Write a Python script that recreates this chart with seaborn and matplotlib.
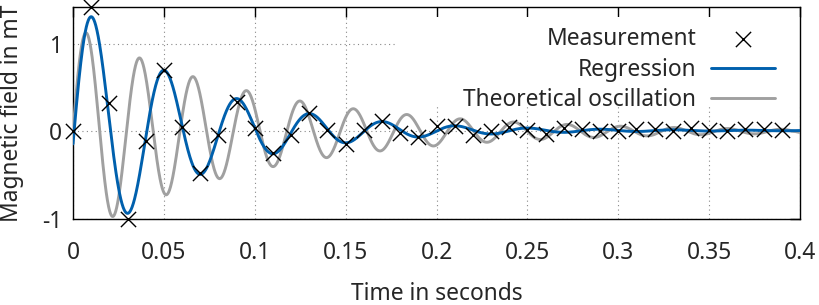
import numpy as np
import pandas as pd
import matplotlib
matplotlib.use("Agg")
import matplotlib.pyplot as plt
from matplotlib.patches import Rectangle
import seaborn as sns

# ---------------- data ----------------
meas_t = [0.00, 0.01, 0.02, 0.03, 0.04, 0.05, 0.06, 0.07, 0.08, 0.09,
          0.10, 0.11, 0.12, 0.13, 0.14, 0.15, 0.16, 0.17, 0.18, 0.19,
          0.20, 0.21, 0.22, 0.23, 0.24, 0.25, 0.26, 0.27, 0.28, 0.29,
          0.30, 0.31, 0.32, 0.33, 0.34, 0.35, 0.36, 0.37, 0.38, 0.39]
meas_b = [0.00, 1.42, 0.32, -1.00, -0.11, 0.70, 0.05, -0.47, -0.04, 0.33,
          0.04, -0.25, -0.04, 0.21, 0.02, -0.14, 0.02, 0.12, -0.02, -0.06,
          0.06, 0.06, -0.04, 0.01, 0.05, 0.02, -0.03, 0.04, 0.03, 0.00,
          0.00, 0.03, 0.03, 0.01, 0.04, 0.02, 0.01, 0.03, 0.03, 0.02]

# damped-oscillation parameters:
# [amplitude (mT), decay time (s), frequency (Hz), phase (rad), offset (mT)]
regression_params = [1.53, 0.063, 25.0, -0.10, 0.01]
theory_params = [1.21, 0.100, 34.0, 0.00, 0.00]

x_ticks = [0, 0.05, 0.1, 0.15, 0.2, 0.25, 0.3, 0.35, 0.4]
x_tick_labels = ["0", "0.05", "0.1", "0.15", "0.2", "0.25", "0.3", "0.35", "0.4"]
y_ticks = [-1, 0, 1]
y_tick_labels = ["-1", "0", "1"]

labels = ["Measurement", "Regression", "Theoretical oscillation"]


def damped(t, p):
    a, tau, f, phi, c = p
    return a * np.exp(-t / tau) * np.sin(2 * np.pi * f * t + phi) + c


t_curve = np.linspace(0, 0.4, 3000)
df_reg = pd.DataFrame({"t": t_curve, "b": damped(t_curve, regression_params)})
df_th = pd.DataFrame({"t": t_curve, "b": damped(t_curve, theory_params)})
df_meas = pd.DataFrame({"t": meas_t, "b": meas_b})

# ---------------- style ----------------
sns.set_theme(style="white")
plt.rcParams["font.family"] = ["Noto Sans", "DejaVu Sans"]
plt.rcParams["axes.unicode_minus"] = False
FS = 16.4

fig, ax = plt.subplots(figsize=(8.2, 3.05), dpi=100)
fig.subplots_adjust(left=73 / 820, right=800 / 820, bottom=1 - 219 / 305, top=1 - 7 / 305)

sns.lineplot(data=df_th, x="t", y="b", ax=ax, color="#a0a0a0", lw=2.1,
             label=labels[2], zorder=3)
sns.lineplot(data=df_reg, x="t", y="b", ax=ax, color="#0060ad", lw=2.1,
             label=labels[1], zorder=4)
sns.scatterplot(data=df_meas, x="t", y="b", ax=ax, marker="x", color="black",
                s=120, linewidth=1.0, label=labels[0], zorder=5, clip_on=False)

ax.set_xlim(0, 0.4)
ax.set_ylim(-1.0, 1.42)
ax.set_xticks(x_ticks)
ax.set_xticklabels(x_tick_labels)
ax.set_yticks(y_ticks)
ax.set_yticklabels(y_tick_labels)

ax.set_axisbelow(True)
ax.grid(True, linestyle=(0, (1, 3)), color="#888888", lw=0.8)
ax.tick_params(direction="in", top=True, right=True, length=7, width=1,
               color="black", labelsize=FS)
ax.tick_params(axis="x", pad=16)
ax.tick_params(axis="y", pad=8)
for s in ax.spines.values():
    s.set_color("black")
    s.set_linewidth(1.0)

ax.set_xlabel("Time in seconds", fontsize=FS, labelpad=12)
ax.set_ylabel("Magnetic field in mT", fontsize=FS, labelpad=13)

# white key box hiding the grid behind the legend
ax.add_patch(Rectangle((0.443, 0.528), 0.557, 0.425, transform=ax.transAxes,
                       facecolor="white", edgecolor="none", zorder=1))

h, l = ax.get_legend_handles_labels()
order = [l.index(x) for x in labels]
leg = ax.legend([h[i] for i in order], [l[i] for i in order],
                loc="upper right", bbox_to_anchor=(0.9656, 0.905),
                frameon=False, fontsize=FS, markerfirst=False,
                handlelength=2.8, handletextpad=0.65, labelspacing=0.29,
                borderpad=0, borderaxespad=0, scatterpoints=1)
for t in leg.get_texts():
    t.set_ha("right")
leg._legend_box.align = "right"

fig.savefig("out.png", dpi=100)
